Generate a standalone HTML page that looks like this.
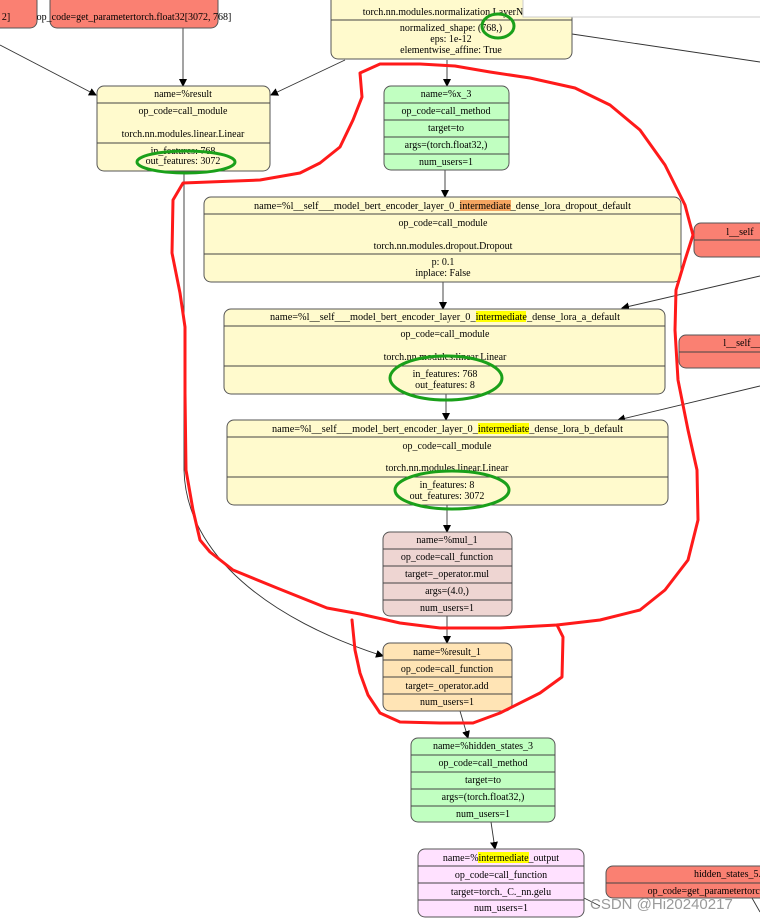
<!DOCTYPE html>
<html><head><meta charset="utf-8"><style>
html,body{margin:0;padding:0;background:#fff;}
svg{display:block;}
text{font-family:"Liberation Serif",serif;font-size:10px;fill:#000;text-anchor:middle;}
text.s{text-anchor:start;}
.b{stroke:#555;stroke-width:1;}
.d{stroke:#444;stroke-width:1;}
.e{stroke:#333;stroke-width:0.9;fill:none;}
</style></head><body>
<svg width="760" height="918" viewBox="0 0 760 918" xmlns="http://www.w3.org/2000/svg">
<defs><marker id="a" markerWidth="8" markerHeight="8" refX="7" refY="4" orient="auto" markerUnits="userSpaceOnUse"><path d="M0,0 L8,4 L0,8 z" fill="#000"/></marker></defs>

<!-- edges -->
<path class="e" d="M0,45 L96,95" marker-end="url(#a)"/>
<path class="e" d="M183,28 L183,86" marker-end="url(#a)"/>
<path class="e" d="M345,60 L271,95" marker-end="url(#a)"/>
<path class="e" d="M447,60 L447,86" marker-end="url(#a)"/>
<path class="e" d="M572,34 L760,62"/>
<path class="e" d="M445,170 L445,197" marker-end="url(#a)"/>
<path class="e" d="M443,282 L443,309" marker-end="url(#a)"/>
<path class="e" d="M446,394 L446,420" marker-end="url(#a)"/>
<path class="e" d="M760,276 L622,308" marker-end="url(#a)"/>
<path class="e" d="M760,386 L618,420" marker-end="url(#a)"/>
<path class="e" d="M447,505 L447,532" marker-end="url(#a)"/>
<path class="e" d="M447,616 L447,643" marker-end="url(#a)"/>
<path class="e" d="M184,171 L184,470 C186,555 270,620 383,656" marker-end="url(#a)"/>
<path class="e" d="M460,711 L468,738" marker-end="url(#a)"/>
<path class="e" d="M491,822 L495,849" marker-end="url(#a)"/>
<path class="e" d="M584,898 L600,906"/>
<path class="e" d="M752,898 L760,912"/>

<!-- top-left partial red -->
<rect x="-10" y="-6" width="47" height="34" rx="7" fill="#fa8072" class="b"/>
<text x="6" y="20">2]</text>
<rect x="50" y="-6" width="168" height="34" rx="7" fill="#fa8072" class="b"/>
<text x="134" y="20">op_code=get_parametertorch.float32[3072, 768]</text>

<!-- LayerNorm -->
<rect x="331" y="-8" width="241" height="67" rx="7" fill="#fffacd" class="b"/>
<text x="451" y="15">torch.nn.modules.normalization.LayerNorm</text>
<line x1="331" y1="20" x2="572" y2="20" class="d"/>
<text x="451" y="31">normalized_shape: (768,)</text>
<text x="451" y="42">eps: 1e-12</text>
<text x="451" y="53">elementwise_affine: True</text>
<rect x="523" y="-1" width="240" height="18" fill="#fff" stroke="#ccc"/>

<!-- result -->
<rect x="97" y="86" width="173" height="85" rx="7" fill="#fffacd" class="b"/>
<text x="183" y="97">name=%result</text>
<line x1="97" y1="103" x2="270" y2="103" class="d"/>
<text x="183" y="114">op_code=call_module</text>
<text x="183" y="137">torch.nn.modules.linear.Linear</text>
<line x1="97" y1="143" x2="270" y2="143" class="d"/>
<text x="183" y="154">in_features: 768</text>
<text x="183" y="164">out_features: 3072</text>

<!-- x_3 -->
<rect x="384" y="86" width="125" height="84" rx="7" fill="#c1ffc1" class="b"/>
<text x="446" y="97">name=%x_3</text>
<line x1="384" y1="103" x2="509" y2="103" class="d"/>
<text x="446" y="114">op_code=call_method</text>
<line x1="384" y1="120" x2="509" y2="120" class="d"/>
<text x="446" y="131">target=to</text>
<line x1="384" y1="137" x2="509" y2="137" class="d"/>
<text x="446" y="148">args=(torch.float32,)</text>
<line x1="384" y1="154" x2="509" y2="154" class="d"/>
<text x="446" y="165">num_users=1</text>

<!-- dropout -->
<rect x="204" y="197" width="477" height="85" rx="7" fill="#fffacd" class="b"/>
<rect x="460" y="200" width="51" height="11" fill="#f4a460"/>
<text class="s" x="254" y="209" textLength="377" lengthAdjust="spacingAndGlyphs">name=%l__self___model_bert_encoder_layer_0_intermediate_dense_lora_dropout_default</text>
<line x1="204" y1="214" x2="681" y2="214" class="d"/>
<text x="443" y="226">op_code=call_module</text>
<text x="443" y="249">torch.nn.modules.dropout.Dropout</text>
<line x1="204" y1="254" x2="681" y2="254" class="d"/>
<text x="443" y="265">p: 0.1</text>
<text x="443" y="276">inplace: False</text>

<!-- lora_a -->
<rect x="224" y="309" width="441" height="85" rx="7" fill="#fffacd" class="b"/>
<rect x="476" y="311" width="50" height="11" fill="#ffff00"/>
<text class="s" x="270" y="320" textLength="350" lengthAdjust="spacingAndGlyphs">name=%l__self___model_bert_encoder_layer_0_intermediate_dense_lora_a_default</text>
<line x1="224" y1="326" x2="665" y2="326" class="d"/>
<text x="445" y="337">op_code=call_module</text>
<text x="445" y="360">torch.nn.modules.linear.Linear</text>
<line x1="224" y1="366" x2="665" y2="366" class="d"/>
<text x="445" y="377">in_features: 768</text>
<text x="445" y="388">out_features: 8</text>

<!-- lora_b -->
<rect x="227" y="420" width="441" height="85" rx="7" fill="#fffacd" class="b"/>
<rect x="478" y="423" width="51" height="11" fill="#ffff00"/>
<text class="s" x="272" y="432" textLength="351" lengthAdjust="spacingAndGlyphs">name=%l__self___model_bert_encoder_layer_0_intermediate_dense_lora_b_default</text>
<line x1="227" y1="437" x2="668" y2="437" class="d"/>
<text x="447" y="449">op_code=call_module</text>
<text x="447" y="471">torch.nn.modules.linear.Linear</text>
<line x1="227" y1="477" x2="668" y2="477" class="d"/>
<text x="447" y="488">in_features: 8</text>
<text x="447" y="499">out_features: 3072</text>

<!-- right red nodes -->
<rect x="694" y="223" width="80" height="34" rx="7" fill="#fa8072" class="b"/>
<text x="740" y="235">l__self</text>
<line x1="694" y1="240" x2="760" y2="240" class="d"/>
<rect x="679" y="335" width="90" height="33" rx="7" fill="#fa8072" class="b"/>
<text x="742" y="346">l__self__</text>
<line x1="679" y1="352" x2="760" y2="352" class="d"/>

<!-- mul_1 -->
<rect x="383" y="532" width="129" height="84" rx="7" fill="#eed5d2" class="b"/>
<text x="447" y="543">name=%mul_1</text>
<line x1="383" y1="549" x2="512" y2="549" class="d"/>
<text x="447" y="560">op_code=call_function</text>
<line x1="383" y1="566" x2="512" y2="566" class="d"/>
<text x="447" y="577">target=_operator.mul</text>
<line x1="383" y1="583" x2="512" y2="583" class="d"/>
<text x="447" y="594">args=(4.0,)</text>
<line x1="383" y1="600" x2="512" y2="600" class="d"/>
<text x="447" y="611">num_users=1</text>

<!-- result_1 -->
<rect x="383" y="643" width="129" height="68" rx="7" fill="#ffe4b5" class="b"/>
<text x="447" y="655">name=%result_1</text>
<line x1="383" y1="660" x2="512" y2="660" class="d"/>
<text x="447" y="672">op_code=call_function</text>
<line x1="383" y1="677" x2="512" y2="677" class="d"/>
<text x="447" y="689">target=_operator.add</text>
<line x1="383" y1="694" x2="512" y2="694" class="d"/>
<text x="447" y="705">num_users=1</text>

<!-- hidden_states_3 -->
<rect x="411" y="738" width="144" height="84" rx="7" fill="#c1ffc1" class="b"/>
<text x="483" y="749">name=%hidden_states_3</text>
<line x1="411" y1="755" x2="555" y2="755" class="d"/>
<text x="483" y="766">op_code=call_method</text>
<line x1="411" y1="772" x2="555" y2="772" class="d"/>
<text x="483" y="783">target=to</text>
<line x1="411" y1="789" x2="555" y2="789" class="d"/>
<text x="483" y="800">args=(torch.float32,)</text>
<line x1="411" y1="806" x2="555" y2="806" class="d"/>
<text x="483" y="817">num_users=1</text>

<!-- intermediate_output -->
<rect x="418" y="849" width="166" height="68" rx="7" fill="#ffe1ff" class="b"/>
<rect x="478" y="852" width="51" height="11" fill="#ffff00"/>
<text x="501" y="861">name=%intermediate_output</text>
<line x1="418" y1="866" x2="584" y2="866" class="d"/>
<text x="501" y="878">op_code=call_function</text>
<line x1="418" y1="883" x2="584" y2="883" class="d"/>
<text x="501" y="895">target=torch._C._nn.gelu</text>
<line x1="418" y1="900" x2="584" y2="900" class="d"/>
<text x="501" y="911">num_users=1</text>

<!-- bottom right red -->
<rect x="606" y="866" width="170" height="32" rx="7" fill="#fa8072" class="b"/>
<text x="730" y="877">hidden_states_5...</text>
<line x1="606" y1="883" x2="760" y2="883" class="d"/>
<text x="710" y="894">op_code=get_parametertorch...</text>

<!-- green ellipses -->
<g fill="none" stroke="#1aa01a" stroke-width="3">
<ellipse cx="498" cy="26" rx="16" ry="12"/>
<ellipse cx="186" cy="162" rx="49" ry="11"/>
<ellipse cx="446" cy="378" rx="56" ry="22"/>
<ellipse cx="452" cy="490" rx="57" ry="19"/>
</g>

<!-- red hand-drawn loops -->
<g fill="none" stroke="#ff1a1a" stroke-width="3" stroke-linejoin="round" stroke-linecap="round">
<path d="M360,73 L380,64 L420,64 L455,66 L490,72 L530,78 L575,88 L610,105 L640,130 L665,165 L685,205 L693,235 L685,260 L676,290 L675,330 L678,380 L688,430 L697,470 L698,520 L688,560 L665,590 L640,610 L600,620 L557,625 L500,628 L440,628 L400,623 L360,614 L327,608 L277,588 L233,570 L210,552 L200,540 L193,510 L186,470 L185,393 L185,327 L180,293 L172,253 L173,200 L183,183 L260,180 L300,173 L320,163 L340,147 L353,120 L362,97 Z"/>
<path d="M352,620 L355,650 L360,673 L368,695 L380,713 L400,722 L440,723 L473,723 L500,713 L540,693 L562,677 L563,637 L557,625"/>
</g>

<text x="590" y="909" class="s" style="font-family:'Liberation Sans',sans-serif;font-size:15px;fill:#9a9a9a;">CSDN @Hi20240217</text>
</svg>
</body></html>
